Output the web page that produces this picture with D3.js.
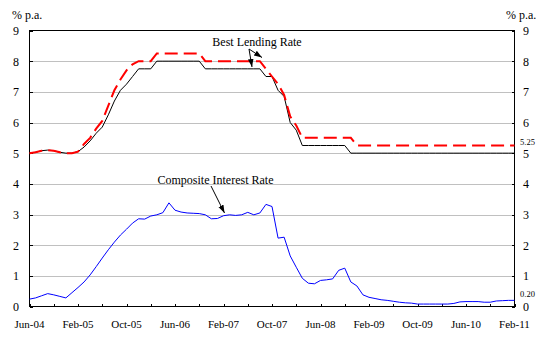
<!DOCTYPE html>
<html>
<head>
<meta charset="utf-8">
<script src="https://cdn.jsdelivr.net/npm/d3@7/dist/d3.min.js"></script>
<style>
html,body{margin:0;padding:0;background:#fff;}
svg{display:block;font-family:"Liberation Serif","Times New Roman",serif;}
</style>
</head>
<body>
<svg id="chart" width="555" height="342"></svg>
<script>
// Monthly data, Jun-04 .. Feb-11 (81 months)
const startMonth = "2004-06";
const xTickLabels = ["Jun-04","Feb-05","Oct-05","Jun-06","Feb-07","Oct-07","Jun-08","Feb-09","Oct-09","Jun-10","Feb-11"];
const yTicks = [0,1,2,3,4,5,6,7,8,9];

const blrLow = [
  5.00,5.03,5.08,5.10,5.08,5.03,5.00,5.00,5.05,5.20,
  5.40,5.65,5.85,6.25,6.70,7.05,7.25,7.50,7.75,7.75,
  7.75,8.00,8.00,8.00,8.00,8.00,8.00,8.00,8.00,7.75,
  7.75,7.75,7.75,7.75,7.75,7.75,7.75,7.75,7.75,7.50,
  7.50,7.05,6.85,6.00,5.75,5.25,5.25,5.25,5.25,5.25,
  5.25,5.25,5.25,5.00,5.00,5.00,5.00,5.00,5.00,5.00,
  5.00,5.00,5.00,5.00,5.00,5.00,5.00,5.00,5.00,5.00,
  5.00,5.00,5.00,5.00,5.00,5.00,5.00,5.00,5.00,5.00,
  5.00
];
const blrHigh = [
  5.00,5.03,5.08,5.10,5.08,5.03,5.00,5.00,5.05,5.30,
  5.50,5.80,6.05,6.55,7.05,7.40,7.70,7.90,8.00,8.00,
  8.00,8.25,8.25,8.25,8.25,8.25,8.25,8.25,8.25,8.00,
  8.00,8.00,8.00,8.00,8.00,8.00,8.00,8.00,8.00,7.75,
  7.50,7.25,6.90,6.20,5.90,5.50,5.50,5.50,5.50,5.50,
  5.50,5.50,5.50,5.50,5.25,5.25,5.25,5.25,5.25,5.25,
  5.25,5.25,5.25,5.25,5.25,5.25,5.25,5.25,5.25,5.25,
  5.25,5.25,5.25,5.25,5.25,5.25,5.25,5.25,5.25,5.25,
  5.25
];
const composite = [
  0.24,0.28,0.35,0.42,0.38,0.33,0.28,0.45,0.62,0.80,
  1.03,1.30,1.58,1.85,2.10,2.33,2.52,2.72,2.86,2.85,
  2.95,2.99,3.06,3.38,3.14,3.08,3.05,3.04,3.03,2.99,
  2.86,2.87,2.96,2.99,2.97,2.99,3.07,2.99,3.05,3.33,
  3.26,2.23,2.26,1.65,1.28,0.92,0.76,0.74,0.85,0.87,
  0.90,1.18,1.25,0.80,0.67,0.38,0.30,0.26,0.22,0.20,
  0.17,0.14,0.12,0.11,0.08,0.08,0.08,0.08,0.08,0.08,
  0.10,0.15,0.16,0.16,0.16,0.14,0.14,0.18,0.19,0.20,
  0.20
];
const endLabels = ["5.25","0.20"];
const endValues = [5.25, 0.20];

const svg = d3.select("#chart");
const L = 29.5, R = 514.5, T = 30.5, B = 306.5;
const x = d3.scaleLinear().domain([0, 80]).range([L, R]);
const y = d3.scaleLinear().domain([0, 9]).range([B, T]);

// gridlines
svg.append("g").selectAll("line").data(yTicks.filter(d => d > 0 && d < 9)).join("line")
  .attr("x1", L).attr("x2", R)
  .attr("y1", d => Math.round(y(d)) + 0.5).attr("y2", d => Math.round(y(d)) + 0.5)
  .attr("stroke", "#c0c0c0").attr("stroke-width", 1).attr("shape-rendering", "crispEdges");

// axes
const xAxis = d3.axisBottom(x).tickValues(d3.range(0, 81, 4)).tickSize(-3).tickFormat("");
svg.append("g").attr("transform", `translate(0,${B})`).call(xAxis)
  .call(g => g.select(".domain").remove())
  .selectAll("line").attr("stroke", "#000").attr("shape-rendering", "crispEdges");

const yl = d3.axisLeft(y).tickValues(yTicks).tickSize(-3).tickFormat("");
svg.append("g").attr("transform", `translate(${L},0)`).call(yl)
  .call(g => g.select(".domain").remove())
  .selectAll("line").attr("stroke", "#000").attr("shape-rendering", "crispEdges");
const yr = d3.axisRight(y).tickValues(yTicks).tickSize(-3).tickFormat("");
svg.append("g").attr("transform", `translate(${R},0)`).call(yr)
  .call(g => g.select(".domain").remove())
  .selectAll("line").attr("stroke", "#000").attr("shape-rendering", "crispEdges");

// frame
svg.append("rect").attr("x", L).attr("y", T).attr("width", R - L).attr("height", B - T)
  .attr("fill", "none").attr("stroke", "#000").attr("stroke-width", 1).attr("shape-rendering", "crispEdges");

// tick labels
svg.append("g").selectAll("text").data(yTicks).join("text")
  .attr("x", 19).attr("y", d => y(d) + 4.5).attr("text-anchor", "end")
  .attr("font-size", 12).text(d => d);
svg.append("g").selectAll("text").data(yTicks).join("text")
  .attr("x", 523).attr("y", d => y(d) + 4.5).attr("text-anchor", "start")
  .attr("font-size", 12).text(d => d);
svg.append("g").selectAll("text").data(xTickLabels).join("text")
  .attr("x", (d, i) => x(i * 8)).attr("y", 328).attr("text-anchor", "middle")
  .attr("font-size", 11).text(d => d);

svg.append("text").attr("x", 12).attr("y", 19).attr("font-size", 12).text("% p.a.");
svg.append("text").attr("x", 506).attr("y", 19).attr("font-size", 12).text("% p.a.");

// lines
const line = d3.line().x((d, i) => x(i)).y(d => y(d));
svg.append("path").datum(blrLow).attr("d", line)
  .attr("fill", "none").attr("stroke", "#000").attr("stroke-width", 1);
svg.append("path").datum(blrHigh).attr("d", line)
  .attr("fill", "none").attr("stroke", "#ff0000").attr("stroke-width", 2)
  .attr("stroke-dasharray", "13,6");
svg.append("path").datum(composite).attr("d", line)
  .attr("fill", "none").attr("stroke", "#0000ff").attr("stroke-width", 1);

// end labels
svg.append("g").selectAll("text").data(endLabels).join("text")
  .attr("x", 520).attr("y", (d, i) => y(endValues[i]) - 1 + (i === 1 ? -2 : 0))
  .attr("font-size", 8.5).text(d => d);

// annotations
const defs = svg.append("defs");
defs.append("marker").attr("id", "arr").attr("viewBox", "0 0 10 10")
  .attr("refX", 10).attr("refY", 5).attr("markerWidth", 8).attr("markerHeight", 8)
  .attr("markerUnits", "userSpaceOnUse").attr("orient", "auto")
  .append("path").attr("d", "M0,1.5 L10,5 L0,8.5 Z").attr("fill", "#000");

svg.append("text").attr("x", 257).attr("y", 46).attr("text-anchor", "middle")
  .attr("font-size", 12).text("Best Lending Rate");
svg.append("line").attr("x1", 249).attr("y1", 49).attr("x2", 262).attr("y2", 57.5)
  .attr("stroke", "#000").attr("stroke-width", 1).attr("marker-end", "url(#arr)");
svg.append("line").attr("x1", 249).attr("y1", 49).attr("x2", 252).attr("y2", 67)
  .attr("stroke", "#000").attr("stroke-width", 1).attr("marker-end", "url(#arr)");

svg.append("text").attr("x", 215.5).attr("y", 184).attr("text-anchor", "middle")
  .attr("font-size", 12).text("Composite Interest Rate");
svg.append("line").attr("x1", 211).attr("y1", 186).attr("x2", 224.5).attr("y2", 213)
  .attr("stroke", "#000").attr("stroke-width", 1).attr("marker-end", "url(#arr)");
</script>
</body>
</html>
